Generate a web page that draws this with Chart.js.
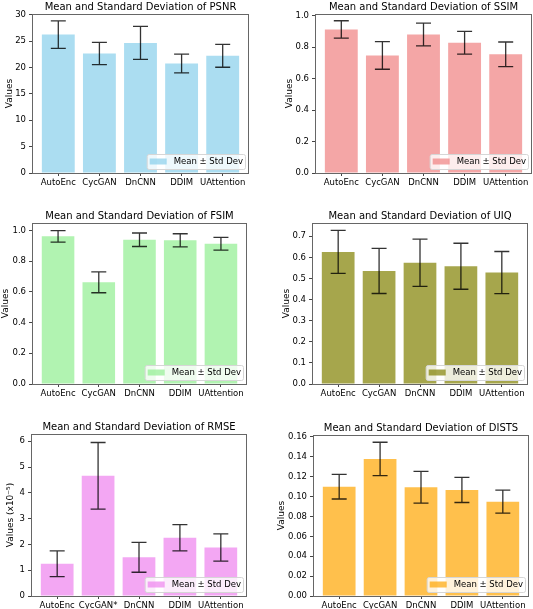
<!DOCTYPE html>
<html>
<head>
<meta charset="utf-8">
<script src="https://cdn.jsdelivr.net/npm/chart.js@4.4.0/dist/chart.umd.min.js"></script>
<style>
  html, body { margin: 0; padding: 0; background: #fff; }
  body { width: 533px; height: 609px; position: relative; overflow: hidden; }
  .panel { position: absolute; }
</style>
</head>
<body>
<div class="panel" id="p0"><canvas id="c0"></canvas></div>
<div class="panel" id="p1"><canvas id="c1"></canvas></div>
<div class="panel" id="p2"><canvas id="c2"></canvas></div>
<div class="panel" id="p3"><canvas id="c3"></canvas></div>
<div class="panel" id="p4"><canvas id="c4"></canvas></div>
<div class="panel" id="p5"><canvas id="c5"></canvas></div>
<script>
// data
const categories = ["AutoEnc", "CycGAN", "DnCNN", "DDIM", "UAttention"];
const rmseCategories = ["AutoEnc", "CycGAN*", "DnCNN", "DDIM", "UAttention"];

const psnrMean = [26.24, 22.66, 24.67, 20.78, 22.22];
const psnrStd = [2.60, 2.10, 3.13, 1.78, 2.17];

const ssimMean = [0.912, 0.747, 0.880, 0.827, 0.754];
const ssimStd = [0.055, 0.088, 0.072, 0.072, 0.078];

const fsimMean = [0.961, 0.662, 0.939, 0.935, 0.913];
const fsimStd = [0.038, 0.068, 0.044, 0.043, 0.042];

const uiqMean = [0.626, 0.536, 0.575, 0.558, 0.528];
const uiqStd = [0.102, 0.107, 0.112, 0.109, 0.100];

const rmseMean = [1.25, 4.66, 1.50, 2.26, 1.88];
const rmseStd = [0.50, 1.29, 0.58, 0.51, 0.53];

const distsMean = [0.110, 0.1379, 0.1094, 0.1067, 0.0949];
const distsStd = [0.0124, 0.0168, 0.0160, 0.0126, 0.0116];

const legendLabel = "Mean \u00b1 Std Dev";

// panel layout (canvas box + plot box in page pixels)
const panels = [
  { title: "Mean and Standard Deviation of PSNR", labels: categories, mean: psnrMean, std: psnrStd,
    color: "rgba(135,206,235,0.7)", yMax: 30.15, step: 5, dec: 0, yLabel: "Values",
    cx: 0, cy: 0, cw: 266, ch: 200, L: 32, T: 14, R: 249, B: 173, labelX: 10 },
  { title: "Mean and Standard Deviation of SSIM", labels: categories, mean: ssimMean, std: ssimStd,
    color: "rgba(240,128,128,0.7)", yMax: 1.01, step: 0.2, dec: 1, yLabel: "Values",
    cx: 266, cy: 0, cw: 267, ch: 200, L: 315, T: 14, R: 532, B: 173, labelX: 290 },
  { title: "Mean and Standard Deviation of FSIM", labels: categories, mean: fsimMean, std: fsimStd,
    color: "rgba(144,238,144,0.7)", yMax: 1.048, step: 0.2, dec: 1, yLabel: "Values",
    cx: 0, cy: 200, cw: 266, ch: 200, L: 32, T: 223, R: 247, B: 384, labelX: 5 },
  { title: "Mean and Standard Deviation of UIQ", labels: categories, mean: uiqMean, std: uiqStd,
    color: "rgba(128,128,0,0.7)", yMax: 0.763, step: 0.1, dec: 1, yLabel: "Values",
    cx: 266, cy: 200, cw: 267, ch: 200, L: 312, T: 223, R: 528, B: 384, labelX: 287 },
  { title: "Mean and Standard Deviation of RMSE", labels: rmseCategories, mean: rmseMean, std: rmseStd,
    color: "rgba(238,130,238,0.7)", yMax: 6.28, step: 1, dec: 0, yLabel: "Values (x10\u207b\u2075)",
    cx: 0, cy: 400, cw: 266, ch: 209, L: 31, T: 434, R: 247, B: 596, labelX: 11 },
  { title: "Mean and Standard Deviation of DISTS", labels: categories, mean: distsMean, std: distsStd,
    color: "rgba(255,165,0,0.7)", yMax: 0.162, step: 0.02, dec: 2, yLabel: "Values",
    cx: 266, cy: 400, cw: 267, ch: 209, L: 313, T: 435, R: 529, B: 596, labelX: 282 }
];

const FONT = "'DejaVu Sans', sans-serif";

// error bars drawn through the chart's scales
const errorBars = {
  id: "errorBars",
  afterDatasetsDraw(chart) {
    const { ctx, scales: { x, y } } = chart;
    const ds = chart.data.datasets[0];
    ctx.save();
    ctx.strokeStyle = "rgba(0,0,0,0.8)";
    ctx.lineWidth = 1.3;
    ds.data.forEach((pt, i) => {
      const px = x.getPixelForValue(pt.x);
      const top = y.getPixelForValue(pt.y + ds.std[i]);
      const bot = y.getPixelForValue(pt.y - ds.std[i]);
      ctx.beginPath();
      ctx.moveTo(px, top); ctx.lineTo(px, bot);
      ctx.moveTo(px - 7.5, top); ctx.lineTo(px + 7.5, top);
      ctx.moveTo(px - 7.5, bot); ctx.lineTo(px + 7.5, bot);
      ctx.stroke();
    });
    ctx.restore();
  }
};

// plot frame, title over the axes, and matplotlib style legend in the lower right
const frameLegend = {
  id: "frameLegend",
  afterDraw(chart) {
    const { ctx, chartArea: a } = chart;
    const opts = chart.options.plugins.frameLegend;
    ctx.save();
    ctx.strokeStyle = "#666";
    ctx.lineWidth = 1;
    ctx.strokeRect(Math.round(a.left) + 0.5, Math.round(a.top) + 0.5,
      Math.round(a.right - a.left) - 1, Math.round(a.bottom - a.top));

    ctx.fillStyle = "#000";
    ctx.font = "10px " + FONT;
    ctx.textAlign = "center";
    ctx.textBaseline = "middle";
    ctx.fillText(opts.title, (a.left + a.right) / 2, a.top - 7);

    ctx.textAlign = "left";
    ctx.font = "8.5px " + FONT;
    const tw = ctx.measureText(legendLabel).width;
    const w = 27 + tw + 2, h = 15;
    const bx = a.right - 4 - w, by = a.bottom - 4 - h;
    ctx.beginPath();
    ctx.roundRect(bx + 0.5, by + 0.5, w, h, 2);
    ctx.fillStyle = "rgba(255,255,255,0.8)";
    ctx.fill();
    ctx.strokeStyle = "#d6d6d6";
    ctx.stroke();
    ctx.fillStyle = chart.data.datasets[0].backgroundColor;
    ctx.fillRect(bx + 3, by + 4.5, 17, 6);
    ctx.fillStyle = "#000";
    ctx.fillText(legendLabel, bx + 27, by + h / 2 + 0.5);
    ctx.restore();
  }
};

panels.forEach((p, k) => {
  const wrap = document.getElementById("p" + k);
  wrap.style.left = p.cx + "px";
  wrap.style.top = p.cy + "px";
  wrap.style.width = p.cw + "px";
  wrap.style.height = p.ch + "px";
  const canvas = document.getElementById("c" + k);
  canvas.width = p.cw;
  canvas.height = p.ch;
  canvas.style.width = p.cw + "px";
  canvas.style.height = p.ch + "px";

  new Chart(canvas, {
    type: "bar",
    data: {
      datasets: [{
        label: legendLabel,
        data: p.mean.map((m, i) => ({ x: i, y: m })),
        std: p.std,
        backgroundColor: p.color,
        borderWidth: 0,
        categoryPercentage: 1,
        barPercentage: 0.8
      }]
    },
    options: {
      responsive: false,
      animation: false,
      devicePixelRatio: 1,
      layout: { padding: { left: 0, top: p.T - p.cy, bottom: 0, right: p.cx + p.cw - p.R } },
      plugins: {
        legend: { display: false },
        tooltip: { enabled: false },
        title: { display: false },
        frameLegend: { title: p.title }
      },
      scales: {
        x: {
          type: "linear",
          min: -0.64,
          max: 4.64,
          offset: false,
          afterBuildTicks: s => { s.ticks = p.labels.map((c, i) => ({ value: i })); },
          afterFit: s => { s.height = p.cy + p.ch - p.B; },
          ticks: {
            autoSkip: false,
            maxRotation: 0,
            padding: 2,
            color: "#000",
            font: { family: FONT, size: 8.5 },
            callback: v => p.labels[v]
          },
          grid: { display: true, offset: false, drawOnChartArea: false, tickLength: 3, tickColor: "#444" },
          border: { display: false }
        },
        y: {
          min: 0,
          max: p.yMax,
          afterFit: s => { s.width = p.L - p.cx; },
          ticks: {
            stepSize: p.step,
            includeBounds: false,
            padding: 3,
            color: "#000",
            font: { family: FONT, size: 8.5 },
            callback: v => Number(v).toFixed(p.dec)
          },
          grid: { display: true, drawOnChartArea: false, tickLength: 3, tickColor: "#444" },
          border: { display: false },
          title: {
            display: true,
            text: p.yLabel,
            color: "#000",
            font: { family: FONT, size: 9, lineHeight: 1.2 },
            padding: { top: Math.max(0, p.labelX - p.cx - 5.4), bottom: 0 }
          }
        }
      }
    },
    plugins: [errorBars, frameLegend]
  });
});
</script>
</body>
</html>
